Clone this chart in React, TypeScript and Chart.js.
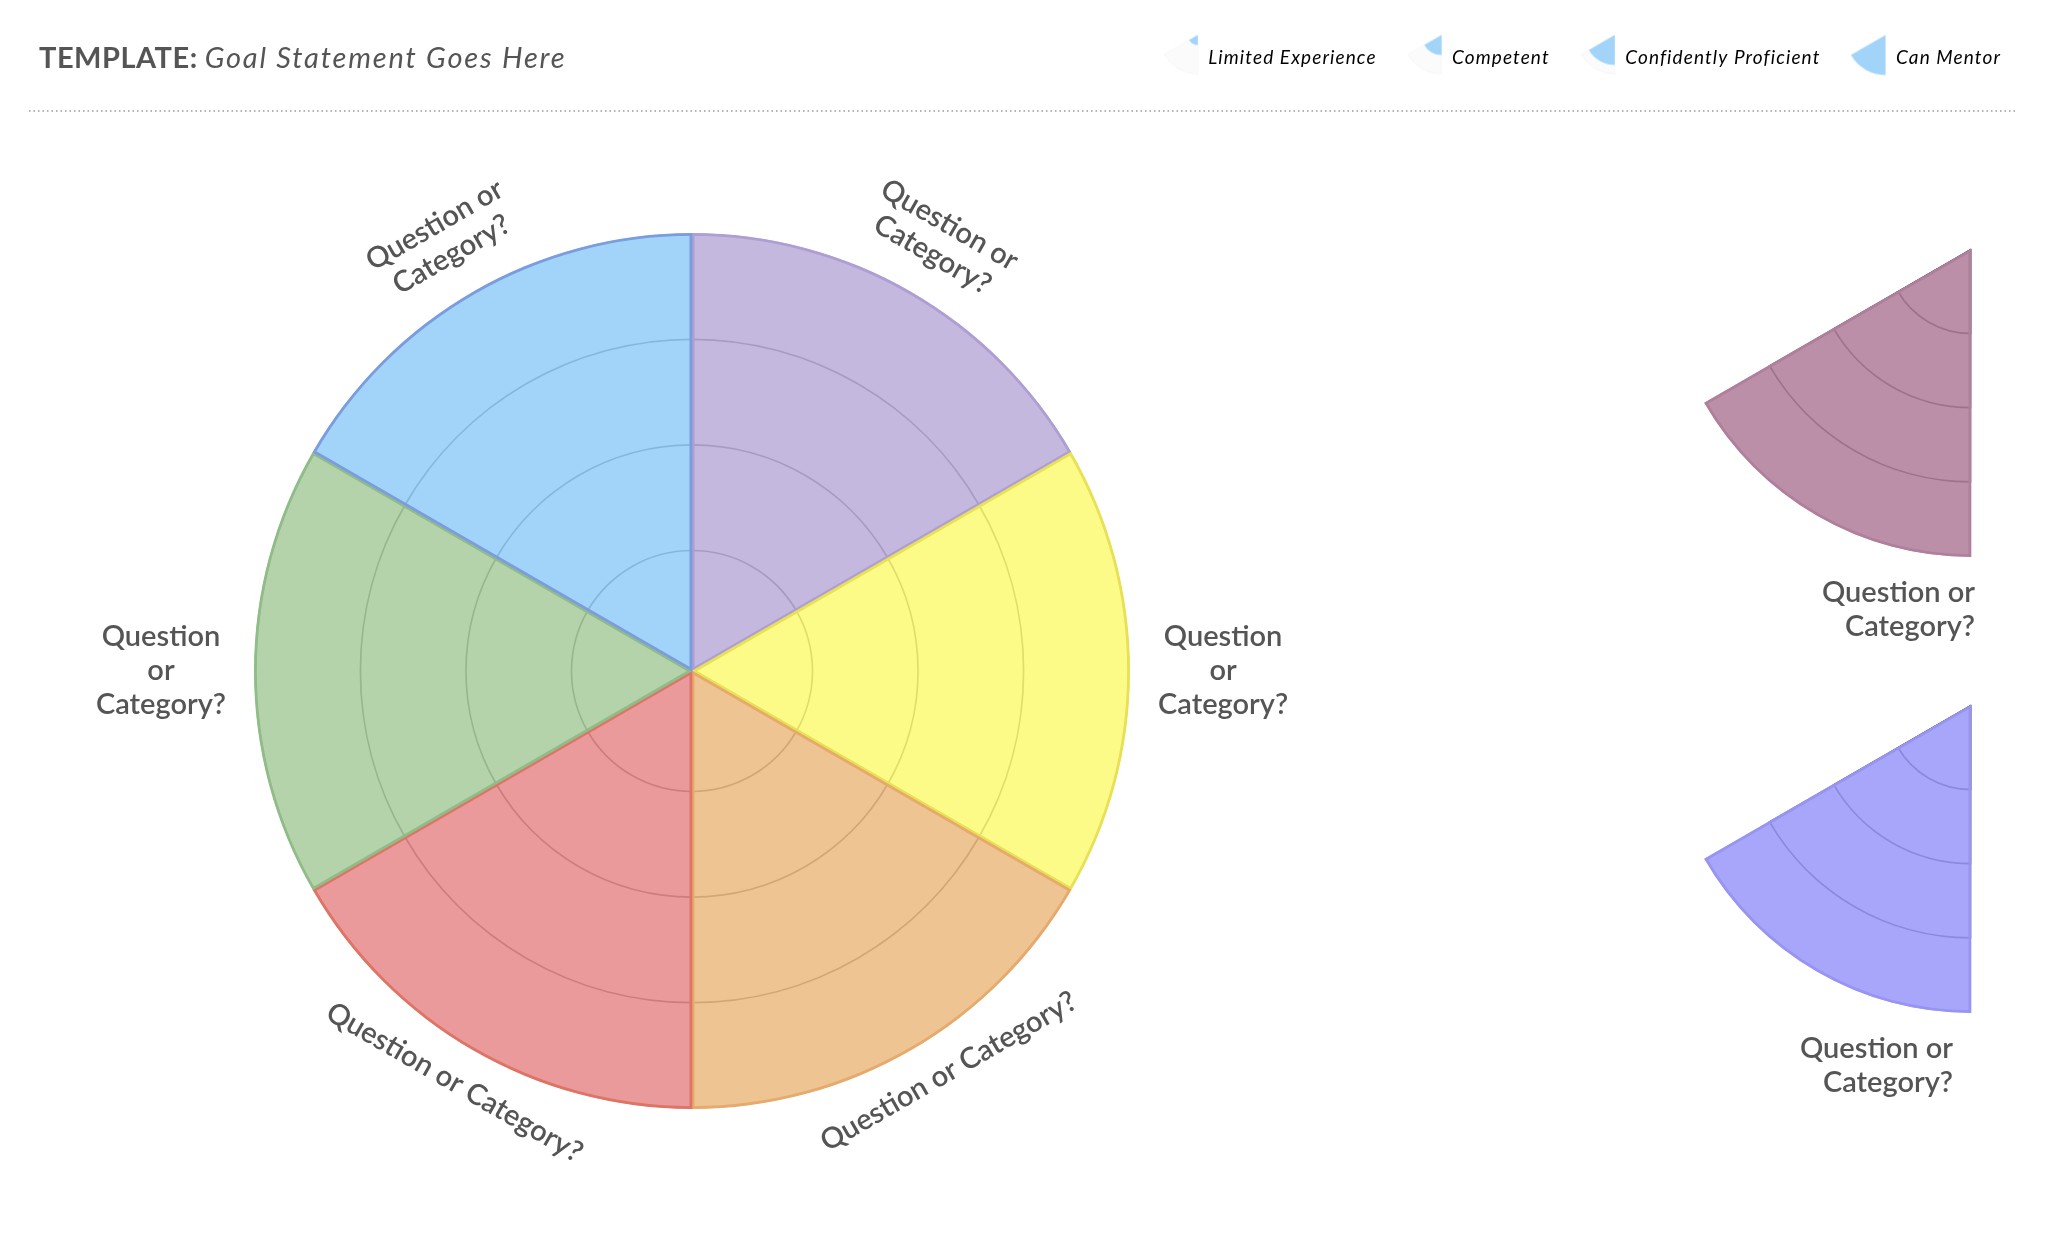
import React, { useEffect, useRef } from "react";
import { Chart, registerables } from "chart.js";

Chart.register(...registerables);

// ---------------- data ----------------
const categories: string[][] = [
  ["Question or", "Category?"],
  ["Question", "or", "Category?"],
  ["Question or Category?"],
  ["Question or Category?"],
  ["Question", "or", "Category?"],
  ["Question or", "Category?"],
];
const mainValues = [4, 4, 4, 4, 4, 4];

const levelNames = ["Limited Experience", "Competent", "Confidently Proficient", "Can Mentor"];
const levelValues = [1, 2, 3, 4];

const sideCategories: string[][] = [
  ["Question or", "Category?"],
  ["Question or", "Category?"],
];
const sideValues = [4, 4];
const SIDE_SLOT = 3; // wedge slot (180° – 240°)

const titleBold = "TEMPLATE:";
const titleItalic = "Goal Statement Goes Here";

// ---------------- styles ----------------
const wedgeColors = ["#C4B8DE", "#FDFB88", "#EFC493", "#EA9A9A", "#B5D3AA", "#A1D4F8"];
const wedgeBorders = ["#AE9FD3", "#E8E055", "#E6AA6C", "#DE7466", "#8FBC88", "#7C9CE0"];
const sideColors = ["#BC8FA8", "#A8A6FA"];
const sideBorders = ["#B07F9B", "#9894F2"];
const iconColor = "#A1D4F8";
const TEXT = "#555555";

const W = 2032;
const H = 1227;
const MAIN = { cx: 684, cy: 663, r: 438 };
const SIDES = [
  { cx: 1963, cy: 241, r: 308, labelDx: 4 },
  { cx: 1963, cy: 697, r: 308, labelDx: -18 },
];
const LABEL_SHIFT = [0, 0, 22, 0, 0, 0]; // tangential nudge per label (px)
const SCALE_MIN = -0.15;
const SCALE_MAX = 4;
const FILL_ALPHA = 0.75;
const LABEL_FONT = "600 29px Lato";
const LH = 34;
const LEGEND_LS = "1.1px";

function overWhite(hex: string, a: number) {
  const n = parseInt(hex.slice(1), 16);
  const rgb = [(n >> 16) & 255, (n >> 8) & 255, n & 255].map((t) =>
    Math.max(0, Math.min(255, Math.round((t - (1 - a) * 255) / a)))
  );
  return `rgba(${rgb.join(",")},${a})`;
}

function makeIcon(frac: number) {
  const c = document.createElement("canvas");
  c.width = 38;
  c.height = 50;
  const g = c.getContext("2d")!;
  const vx = 36;
  const vy = 2.5;
  const R = 40;
  const wedge = (r: number, fill: string, stroke?: string) => {
    g.beginPath();
    g.moveTo(vx, vy);
    g.arc(vx, vy, r, Math.PI / 2, (5 * Math.PI) / 6);
    g.closePath();
    g.fillStyle = fill;
    g.fill();
    if (stroke) {
      g.strokeStyle = stroke;
      g.lineWidth = 1;
      g.stroke();
    }
  };
  if (frac < 1) wedge(R - 1, "rgba(0,0,0,0.015)", "rgba(0,0,0,0.035)");
  wedge(R * frac, iconColor);
  return c;
}

function borderW(w: number) {
  return (ctx: any) => (ctx.raw == null ? 0 : w);
}

function buildDatasets() {
  const ds: any[] = [];
  const addGroup = (axis: string, values: (number | null)[], colors: string[], borders: string[]) => {
    ds.push({
      label: axis,
      data: values,
      rAxisID: axis,
      backgroundColor: colors.map((c) => overWhite(c, FILL_ALPHA)),
      borderColor: borders,
      borderWidth: borderW(2.5),
      borderAlign: "inner",
      order: 0,
    });
    levelValues
      .filter((L) => L < SCALE_MAX)
      .forEach((L) => {
        ds.push({
          label: axis + "-" + L,
          data: values.map((v) => (v != null && v >= L ? L : null)),
          rAxisID: axis,
          backgroundColor: "rgba(0,0,0,0)",
          borderColor: "rgba(0,0,0,0.45)",
          borderWidth: borderW(1.4),
          borderAlign: "inner",
          order: 1,
        });
      });
  };
  addGroup("r", mainValues, wedgeColors, wedgeBorders);
  sideValues.forEach((v, k) => {
    const vals: (number | null)[] = categories.map(() => null);
    vals[SIDE_SLOT] = v;
    const cols = categories.map(() => sideColors[k]);
    const bors = categories.map(() => sideBorders[k]);
    addGroup("side" + k, vals, cols, bors);
  });
  return ds;
}

function scaleOpt(geo: { cx: number; cy: number; r: number }) {
  return {
    type: "radialLinear",
    axis: "r",
    min: SCALE_MIN,
    max: SCALE_MAX,
    startAngle: 0,
    display: true,
    grid: { display: false },
    angleLines: { display: false },
    ticks: { display: false },
    pointLabels: { display: false },
    afterFit: (s: any) => {
      s.xCenter = geo.cx;
      s.yCenter = geo.cy;
      s.drawingArea = geo.r;
    },
  };
}

function setLS(ctx: any, v: string) {
  if ("letterSpacing" in ctx) ctx.letterSpacing = v;
}

const decorPlugin = {
  id: "decor",
  beforeLayout(chart: any) {
    setLS(chart.ctx, LEGEND_LS);
  },
  afterLayout(chart: any) {
    setLS(chart.ctx, "0px");
  },
  beforeDraw(chart: any) {
    setLS(chart.ctx, LEGEND_LS);
  },
  beforeDatasetsDraw(chart: any) {
    setLS(chart.ctx, "0px");
  },
  afterDraw(chart: any) {
    const ctx = chart.ctx as CanvasRenderingContext2D;
    ctx.save();
    // title
    ctx.fillStyle = TEXT;
    ctx.textBaseline = "middle";
    ctx.textAlign = "left";
    ctx.font = "700 29px Lato";
    setLS(ctx, "0.5px");
    ctx.fillText(titleBold, 31, 51);
    const bw = ctx.measureText(titleBold).width;
    ctx.font = "italic 400 29px Lato";
    setLS(ctx, "1.8px");
    ctx.fillText(titleItalic, 31 + bw + 7, 51);
    setLS(ctx, "0px");

    // dotted rule
    ctx.beginPath();
    ctx.setLineDash([1.5, 3]);
    ctx.lineWidth = 1.5;
    ctx.strokeStyle = "#9b9b9b";
    ctx.moveTo(21, 103);
    ctx.lineTo(2007, 103);
    ctx.stroke();
    ctx.setLineDash([]);

    // main labels
    const sc = chart.scales.r;
    const meta = chart.getDatasetMeta(0);
    ctx.font = LABEL_FONT;
    ctx.fillStyle = TEXT;
    ctx.textAlign = "center";
    ctx.textBaseline = "middle";
    meta.data.forEach((arc: any, i: number) => {
      const p = arc.getProps(["startAngle", "endAngle", "outerRadius"], true);
      const mid = (p.startAngle + p.endAngle) / 2;
      const theta = mid + Math.PI / 2;
      const R = p.outerRadius;
      const lines = categories[i];
      const s = Math.sin(theta);
      const c = Math.cos(theta);
      let dist: number;
      let rot: number;
      if (Math.abs(s) > 0.97) {
        const w = Math.max(...lines.map((l) => ctx.measureText(l).width));
        dist = R + 28 + w / 2;
        rot = 0;
      } else if (c > 0) {
        dist = R + 26 + (lines.length * LH) / 2;
        rot = theta;
      } else {
        dist = R + 20 + (lines.length * LH) / 2;
        rot = theta - Math.PI;
      }
      const x = sc.xCenter + Math.cos(mid) * dist;
      const y = sc.yCenter + Math.sin(mid) * dist;
      ctx.save();
      ctx.translate(x, y);
      ctx.rotate(rot);
      const shift = LABEL_SHIFT[i] || 0;
      lines.forEach((l, k) => ctx.fillText(l, shift, (k - (lines.length - 1) / 2) * LH));
      ctx.restore();
    });

    // side labels
    const perGroup = 1 + levelValues.filter((L) => L < SCALE_MAX).length;
    SIDES.forEach((geo, k) => {
      const ssc = chart.scales["side" + k];
      const arc = chart.getDatasetMeta(perGroup * (k + 1)).data[SIDE_SLOT];
      const R = arc.outerRadius;
      ctx.textAlign = "right";
      ctx.textBaseline = "middle";
      sideCategories[k].forEach((l, j) => {
        ctx.fillText(l, ssc.xCenter + geo.labelDx, ssc.yCenter + R + 36 + j * LH);
      });
    });
    ctx.restore();
  },
};

export default function App() {
  const ref = useRef<HTMLCanvasElement>(null);
  useEffect(() => {
    const canvas = ref.current!;
    const icons = levelValues.map((v) => makeIcon(v / levelValues[levelValues.length - 1]));
    const chart = new Chart(canvas, {
      type: "polarArea",
      data: {
        labels: categories.map((c) => c.join(" ")),
        datasets: buildDatasets(),
      },
      options: {
        responsive: false,
        animation: false,
        layout: { padding: { top: 10, right: 9, left: 0, bottom: 0 } },
        scales: {
          r: scaleOpt(MAIN),
          side0: scaleOpt(SIDES[0]),
          side1: scaleOpt(SIDES[1]),
        } as any,
        plugins: {
          tooltip: { enabled: false },
          legend: {
            position: "top",
            align: "end",
            labels: {
              usePointStyle: true,
              pointStyleWidth: 36,
              padding: 30,
              color: TEXT,
              font: { family: "Lato", size: 19, style: "italic" },
              generateLabels: () =>
                levelNames.map((name, i) => ({
                  text: name,
                  pointStyle: icons[i],
                  fillStyle: iconColor,
                  strokeStyle: "rgba(0,0,0,0)",
                  lineWidth: 0,
                  hidden: false,
                  datasetIndex: i,
                })) as any,
            },
          },
        },
      } as any,
      plugins: [decorPlugin],
    });
    return () => chart.destroy();
  }, []);
  return (
    <div style={{ position: "relative", width: W, height: H }}>
      <canvas ref={ref} width={W} height={H} style={{ display: "block", width: W, height: H }} />
    </div>
  );
}
